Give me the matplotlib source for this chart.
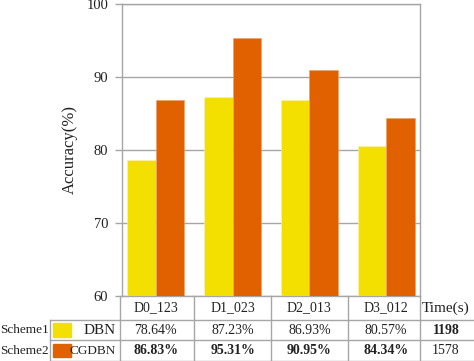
import matplotlib
matplotlib.use("Agg")
import matplotlib.pyplot as plt
from matplotlib.lines import Line2D
from matplotlib.patches import Rectangle

plt.rcParams["font.family"] = ["Liberation Serif", "DejaVu Serif"]

# data
datasets = ["D0_123", "D1_023", "D2_013", "D3_012"]
dbn = [78.64, 87.23, 86.93, 80.57]
cgdbn = [86.83, 95.31, 90.95, 84.34]
dbn_time = 1198
cgdbn_time = 1578
schemes = ["Scheme1", "Scheme2"]
methods = ["DBN", "CGDBN"]
yticks = [60, 70, 80, 90, 100]

YELLOW = "#F3DF00"
ORANGE = "#E16100"
GRID = "#a6a6a6"

W, H = 474, 361
fig = plt.figure(figsize=(W / 100, H / 100), dpi=100)
ax = fig.add_axes([122 / W, 1 - 295.7 / H, 298 / W, 291.4 / H])

bw = 0.37
x = list(range(len(datasets)))
ax.bar([i - bw / 2 for i in x], dbn, bw, color=YELLOW, edgecolor="#fbf3b0", linewidth=0.4, zorder=3)
ax.bar([i + bw / 2 for i in x], cgdbn, bw, color=ORANGE, edgecolor="#f0a060", linewidth=0.4, zorder=3)

xl = (-0.44, 3.44)
ax.set_xlim(*xl)
ax.set_ylim(60, 100)
ax.set_yticks(yticks)
ax.set_xticks([])
ax.yaxis.grid(True, color=GRID, linewidth=1.0, zorder=0)
for s in ax.spines.values():
    s.set_color(GRID)
    s.set_linewidth(1.0)
ax.tick_params(axis="y", colors=GRID, length=5, width=1.0, pad=5, labelsize=10.5, labelcolor="#222222")
ax.set_ylabel("Accuracy(%)", fontsize=12, color="#222222", labelpad=6)

# table below the axes (pixel coords -> figure fraction)
def fx(px):
    return px / W

def fy(py):
    return 1 - py / H

def hline(x0, x1, y):
    fig.add_artist(Line2D([fx(x0), fx(x1)], [fy(y), fy(y)], color=GRID, lw=1.0))

def vline(x, y0, y1):
    fig.add_artist(Line2D([fx(x), fx(x)], [fy(y0), fy(y1)], color=GRID, lw=1.0))

# column geometry from the axes data scale
def data_px(v):
    return 122 + (v - xl[0]) / (xl[1] - xl[0]) * 298

bounds = [120, data_px(0.5), data_px(1.5), data_px(2.5), 420]
centers = [data_px(i) for i in x]

row_top, row1, row2, row_bot = 296, 319.5, 340, 361
hline(50, W, row1)
hline(50, W, row2)
hline(50, W, row_bot - 0.5)
for b in bounds:
    vline(b, row_top, row_bot)
vline(50, row1, row_bot)

txt = dict(ha="center", va="center", color="#222222")
for c, name in zip(centers, datasets):
    fig.text(fx(c), fy(308), name, fontsize=10, **txt)
fig.text(fx(446), fy(308), "Time(s)", fontsize=11, **txt)

for c, a, b in zip(centers, dbn, cgdbn):
    fig.text(fx(c), fy(330), f"{a:.2f}%", fontsize=10, **txt)
    fig.text(fx(c), fy(350.5), f"{b:.2f}%", fontsize=10, fontweight="bold", **txt)
fig.text(fx(446), fy(330), str(dbn_time), fontsize=10, fontweight="bold", **txt)
fig.text(fx(446), fy(350.5), str(cgdbn_time), fontsize=10, **txt)

# legend cells
for ry, col, sch, m in [(330, YELLOW, schemes[0], methods[0]), (350.5, ORANGE, schemes[1], methods[1])]:
    fig.add_artist(Rectangle((fx(52.7), fy(ry + 6.8)), fx(18), 13.6 / H, color=col))
    fig.text(fx(116), fy(ry), m, fontsize=9.5 if m == "CGDBN" else 11, ha="right", va="center", color="#222222")
    fig.text(fx(48.5), fy(ry), sch, fontsize=9.5, ha="right", va="center", color="#222222")

fig.savefig("out.png", dpi=100)
